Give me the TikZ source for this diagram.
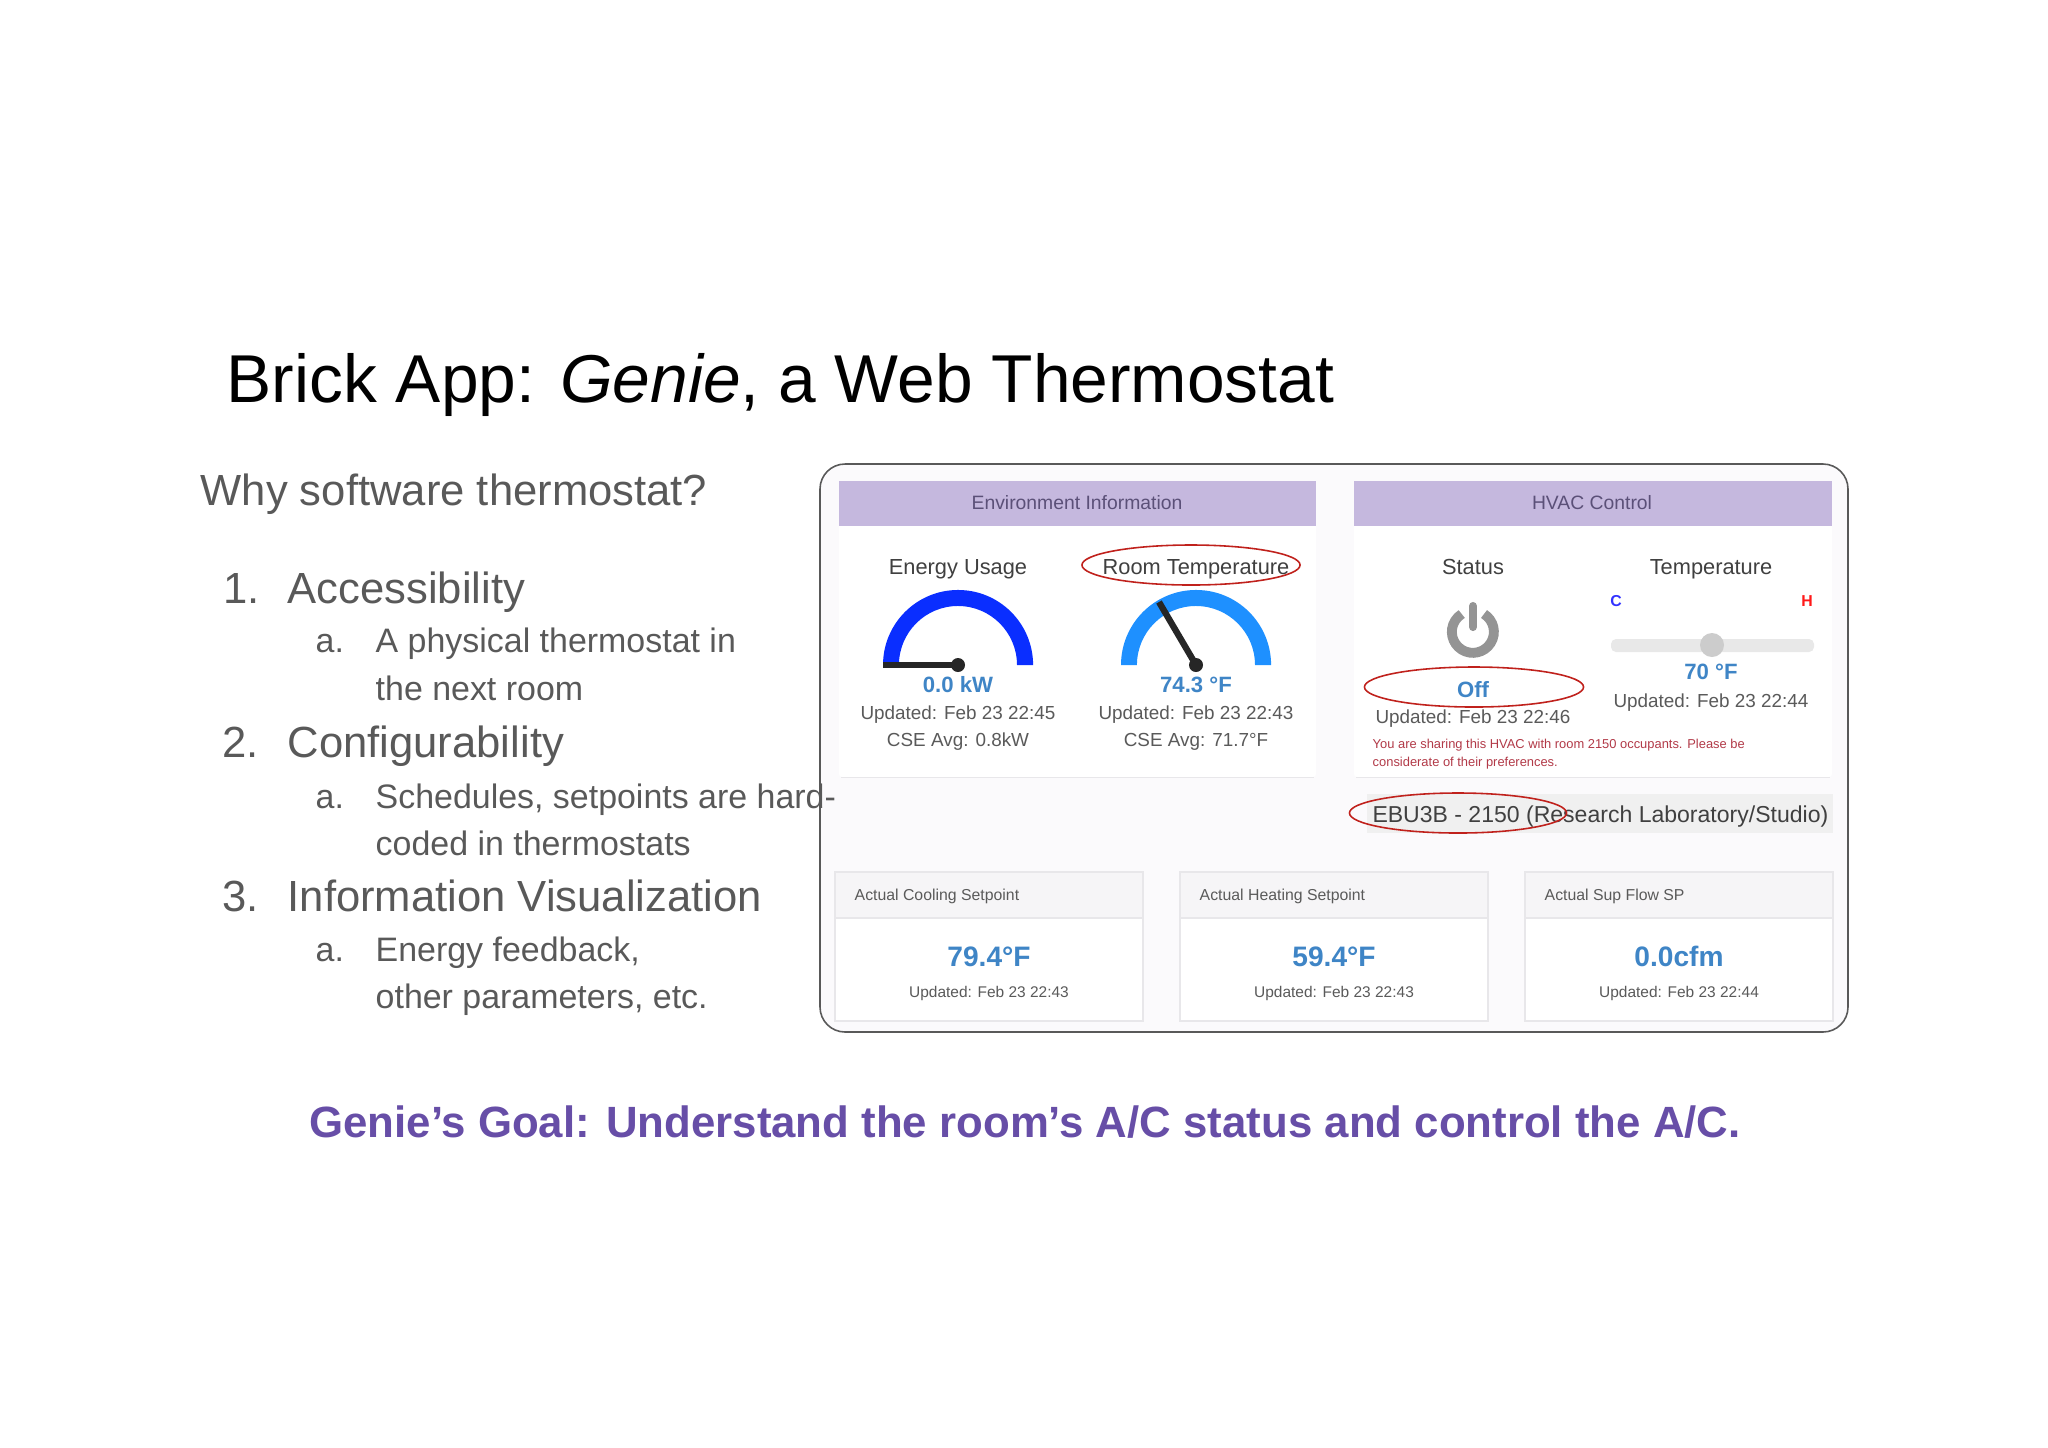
\documentclass[tikz,border=0pt]{standalone}
\usepackage{fontspec}
\setmainfont{Liberation Sans}
\usetikzlibrary{calc, shapes.geometric}
\definecolor{slidegray}{HTML}{595959}
\definecolor{goalpurple}{HTML}{674EA7}
\definecolor{headpurple}{HTML}{C5B8DE}
\definecolor{headtext}{HTML}{5B5078}
\definecolor{panelbg}{HTML}{FBFAFC}
\definecolor{cardhead}{HTML}{F6F5F7}
\definecolor{cardline}{HTML}{E8E7EA}
\definecolor{valueblue}{HTML}{3F85C6}
\definecolor{ringred}{HTML}{C0211C}
\definecolor{webtext}{HTML}{5A5A5A}
\definecolor{gaugeblue}{HTML}{0A2EFF}
\definecolor{gaugesky}{HTML}{1E90FF}
\definecolor{warnred}{HTML}{B23A48}
\tikzset{
    lvlone/.style={anchor=mid west, text=slidegray, font=\fontsize{12.4}{14}\selectfont, inner sep=0pt},
    lvltwo/.style={anchor=mid west, text=slidegray, font=\fontsize{9.65}{12}\selectfont, inner sep=0pt},
    headbar/.style={anchor=mid, text=headtext, font=\fontsize{5.5}{7}\selectfont, inner sep=0pt},
    gaugename/.style={anchor=mid, text=black!75, font=\fontsize{6.2}{8}\selectfont, inner sep=0pt},
    gaugeval/.style={anchor=mid, text=valueblue, font=\bfseries\fontsize{6.3}{8}\selectfont, inner sep=0pt},
    gaugenote/.style={anchor=mid, text=webtext, font=\fontsize{5.37}{7}\selectfont, inner sep=0pt},
    cardname/.style={anchor=mid west, text=webtext, font=\fontsize{4.5}{6}\selectfont, inner sep=0pt},
    cardval/.style={anchor=mid, text=valueblue, font=\bfseries\fontsize{8}{9}\selectfont, inner sep=0pt},
    cardnote/.style={anchor=mid, text=webtext, font=\fontsize{4.4}{6}\selectfont, inner sep=0pt},
    warntext/.style={anchor=mid west, text=warnred, font=\fontsize{3.67}{5}\selectfont, inner sep=0pt},
    redring/.style={ellipse, draw=ringred, line width=0.45pt, inner sep=0pt},
}
\begin{document}
\begin{tikzpicture}[x=0.01cm, y=-0.01cm]
    \useasboundingbox (0,0) rectangle (2048,1447);
    % screenshot frame
    \draw[fill=panelbg, draw=black!65, line width=0.45pt, rounded corners=0.25cm] (820,464) rectangle (1848,1032);
    % top panels
    \fill[white, rounded corners=0.03cm] (839,515) rectangle (1316,777);
    \fill[white, rounded corners=0.03cm] (1354,515) rectangle (1832,777);
    \draw[cardline, line width=0.3pt] (841,777.5) -- (1314,777.5);
    \draw[cardline, line width=0.3pt] (1356,777.5) -- (1830,777.5);
    \fill[headpurple] (839,481) rectangle (1316,526);
    \fill[headpurple] (1354,481) rectangle (1832,526);
    \node[headbar] (envhead) at (1077,500.5) {Environment Information};
    \node[headbar] (hvachead) at (1592,500.5) {HVAC Control};
    % gauges
    \fill[gaugeblue] (883,665) arc[start angle=180, end angle=0, radius=0.75cm] -- (1017,665) arc[start angle=0, end angle=180, radius=0.59cm] -- cycle;
    \fill[gaugesky] (1121,665) arc[start angle=180, end angle=0, radius=0.75cm] -- (1255,665) arc[start angle=0, end angle=180, radius=0.59cm] -- cycle;
    \draw[black!85, line width=1.8pt] (883,665) -- (958,665);
    \fill[black!85] (958,665) circle[radius=0.07cm];
    \draw[black!85, line width=1.8pt] (1159,602) -- (1196,665);
    \fill[black!85] (1196,665) circle[radius=0.07cm];
    \node[gaugename] (energy) at (958,565.5) {Energy Usage};
    \node[gaugeval] (energyval) at (958,683) {0.0 kW};
    \node[gaugenote] (energyupd) at (958,710) {Updated: Feb 23 22:45};
    \node[gaugenote] (energyavg) at (958,737) {CSE Avg: 0.8kW};
    \node[gaugename] (roomtemp) at (1196,565.5) {Room Temperature};
    \node[gaugeval] (roomval) at (1196,683) {74.3 °F};
    \node[gaugenote] (roomupd) at (1196,710) {Updated: Feb 23 22:43};
    \node[gaugenote] (roomavg) at (1196,737) {CSE Avg: 71.7°F};
    % status and slider
    \node[gaugename] (status) at (1473,565.5) {Status};
    \draw[black!42, line width=2.8pt] (1484,614) arc[start angle=58, end angle=-238, radius=0.21cm];
    \draw[black!42, line width=2.3pt, line cap=round] (1473,606) -- (1473,627);
    \node[gaugeval] (offval) at (1473,688) {Off};
    \node[gaugenote] (offupd) at (1473,714.5) {Updated: Feb 23 22:46};
    \node[warntext] (warnone) at (1372,739) {You are sharing this HVAC with room 2150 occupants. Please be};
    \node[warntext] (warntwo) at (1372,757) {considerate of their preferences.};
    \node[gaugename] (tempname) at (1711,565.5) {Temperature};
    \node[text=blue!80, font=\bfseries\fontsize{4.5}{6}\selectfont, inner sep=0pt] (coldmark) at (1616,601) {C};
    \node[text=red!90, font=\bfseries\fontsize{4.5}{6}\selectfont, inner sep=0pt] (hotmark) at (1807,601) {H};
    \fill[black!9, rounded corners=0.05cm] (1611,639) rectangle (1814,652);
    \fill[black!20] (1712,645) circle[radius=0.12cm];
    \node[gaugeval] (tempval) at (1711,670.5) {70 °F};
    \node[gaugenote] (tempupd) at (1711,698) {Updated: Feb 23 22:44};
    % room bar
    \fill[black!6] (1367,794) rectangle (1833,833);
    \node[text=black!75, anchor=mid east, font=\fontsize{6.55}{8}\selectfont, inner sep=0pt] (roombar) at (1829,813) {EBU3B - 2150 (Research Laboratory/Studio)};
    % bottom cards
    \foreach \cx/\cname/\cval/\cupd in {835/Actual Cooling Setpoint/79.4°F/43, 1180/Actual Heating Setpoint/59.4°F/43, 1525/Actual Sup Flow SP/0.0cfm/44} {
        \draw[cardline, fill=white, line width=0.4pt] (\cx,872) rectangle ++(308,149);
        \draw[cardline, fill=cardhead, line width=0.4pt] (\cx,872) rectangle ++(308,46);
        \node[cardname] (card\cx) at ($(\cx,891)+(19,0)$) {\cname};
        \node[cardval] (val\cx) at ($(\cx,957)+(154,0)$) {\cval};
        \node[cardnote] (upd\cx) at ($(\cx,988.5)+(154,0)$) {Updated: Feb 23 22:\cupd};
    }
    % red rings
    \node[redring, minimum width=2.18cm, minimum height=0.40cm] (ringroom) at (1191,565) {};
    \node[redring, minimum width=2.19cm, minimum height=0.40cm] (ringoff) at (1474,687) {};
    \node[redring, minimum width=2.17cm, minimum height=0.40cm] (ringbar) at (1458,813) {};
    % slide text
    \node[anchor=mid west, inner sep=0pt, font=\fontsize{19.25}{22}\selectfont] (title) at (226,393) {Brick App: \textit{Genie}, a Web Thermostat};
    \node[lvlone] (why) at (200,496.5) {Why software thermostat?};
    \node[lvlone] (numone) at (223,594.5) {1.};
    \node[lvlone] (itemone) at (287,594.5) {Accessibility};
    \node[lvltwo] (subone) at (315,643) {a.};
    \node[lvltwo] (subonea) at (375,643) {A physical thermostat in};
    \node[lvltwo] (suboneb) at (375,691) {the next room};
    \node[lvlone] (numtwo) at (222,748.5) {2.};
    \node[lvlone] (itemtwo) at (287,748.5) {Configurability};
    \node[lvltwo] (subtwo) at (315,799.5) {a.};
    \node[lvltwo] (subtwoa) at (375,799.5) {Schedules, setpoints are hard-};
    \node[lvltwo] (subtwob) at (375,846) {coded in thermostats};
    \node[lvlone] (numthree) at (222,902.5) {3.};
    \node[lvlone] (itemthree) at (287,902.5) {Information Visualization};
    \node[lvltwo] (subthree) at (315,952) {a.};
    \node[lvltwo] (subthreea) at (375,952) {Energy feedback,};
    \node[lvltwo] (subthreeb) at (375,999) {other parameters, etc.};
    \node[anchor=mid, text=goalpurple, inner sep=0pt, font=\bfseries\fontsize{12.45}{14}\selectfont] (goal) at (1025,1128.5) {Genie’s Goal: Understand the room’s A/C status and control the A/C.};
\end{tikzpicture}
\end{document}
